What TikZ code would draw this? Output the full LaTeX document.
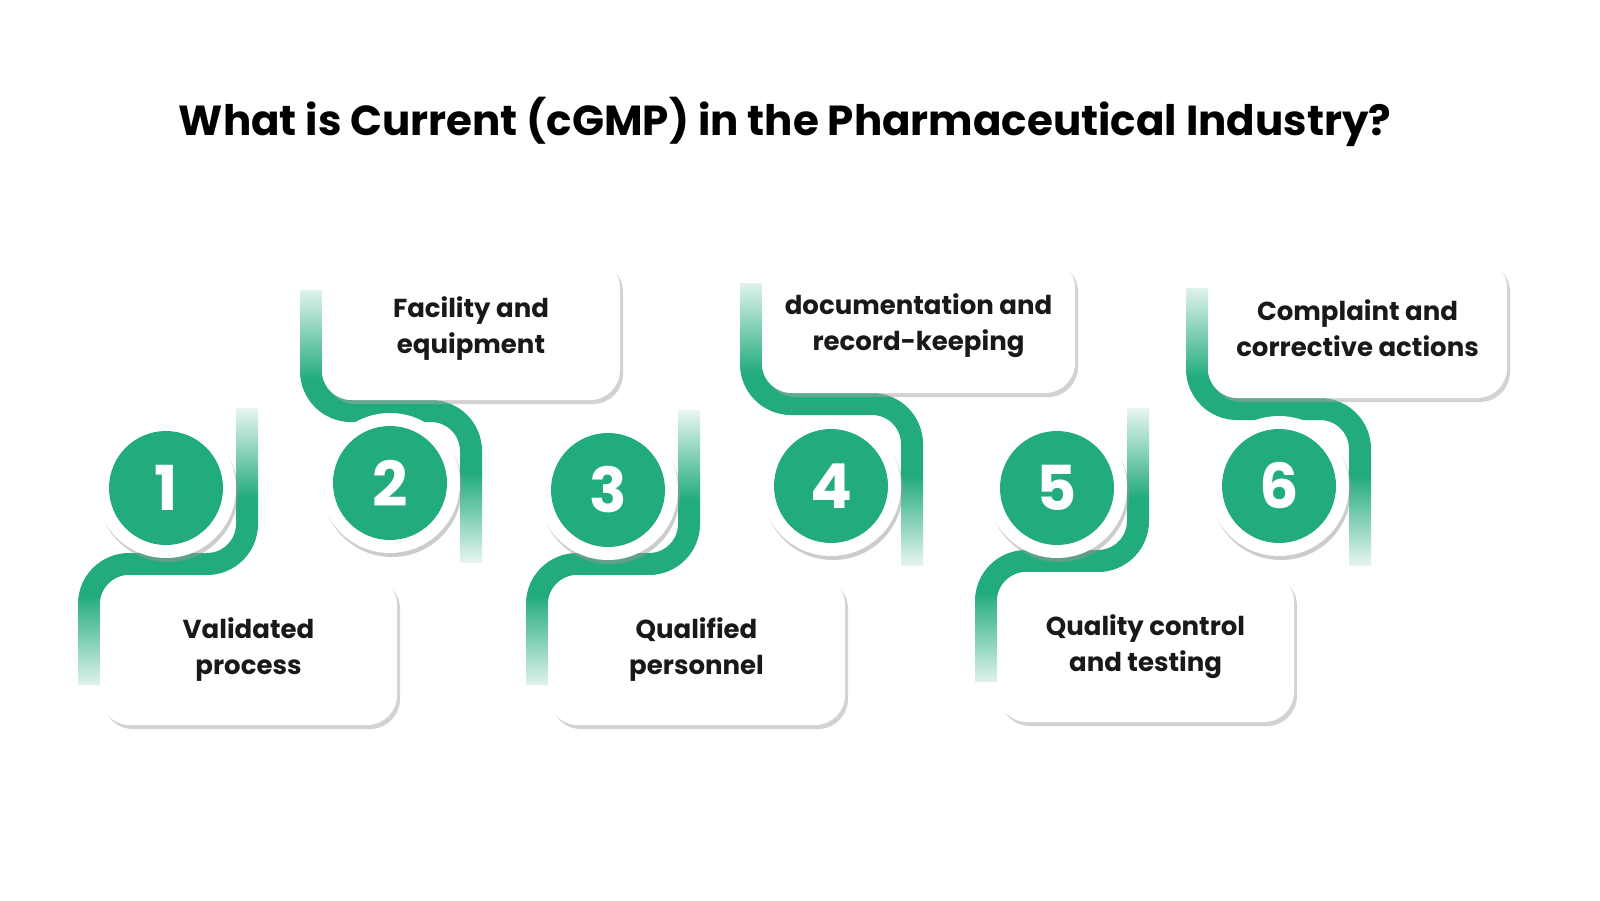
\documentclass[tikz,border=0pt]{standalone}
\usepackage{fontspec}
\setmainfont{Poppins}
\usetikzlibrary{shadows,fadings}
\definecolor{gr}{HTML}{22AB7F}
\begin{document}
\begin{tikzpicture}[x=1pt,y=-1pt,
  box/.style={fill=white,rounded corners=30pt,drop shadow={shadow xshift=3pt,shadow yshift=-4pt,fill=black!35,opacity=0.5},align=center,font=\fontsize{26}{36}\selectfont\bfseries\color{black!90}},
  ring/.style={circle,fill=white,minimum size=140pt,drop shadow={shadow xshift=2pt,shadow yshift=-4pt,fill=black!40,opacity=0.5}},
  num/.style={circle,fill=gr,minimum size=114pt,text=white,font=\fontsize{62}{62}\selectfont\bfseries},
  rib/.style={draw=gr,line width=22pt,rounded corners=40pt}]
\useasboundingbox (0,0) rectangle (1600,900);
\node[font=\fontsize{42}{50}\selectfont\bfseries] (title) at (785,122) {What is Current (cGMP) in the Pharmaceutical Industry?};
% ribbons
\foreach \cx/\cy/\bl/\bt in {166/488/100/575, 608/490/548/575, 1057/488/997/572}{
  \draw[rib] (\bl-11,\bt+110) -- (\bl-11,\bt-11) -- (\cx+81,\bt-11) -- (\cx+81,\cy-80);
  \fill[white,path fading=north] (\bl-30,\bt+20) rectangle (\bl+2,\bt+125);
  \fill[white,path fading=south] (\cx+60,\cy-90) rectangle (\cx+100,\cy+10);
}
\foreach \cx/\cy/\bl/\bb in {390/483/322/400, 831/486/762/393, 1279/486/1208/398}{
  \draw[rib] (\bl-11,\bb-110) -- (\bl-11,\bb+11) -- (\cx+81,\bb+11) -- (\cx+81,\cy+80);
  \fill[white,path fading=south] (\bl-30,\bb-125) rectangle (\bl+2,\bb-20);
  \fill[white,path fading=north] (\cx+60,\cy-10) rectangle (\cx+100,\cy+90);
}
% boxes
\node[box,minimum width=297pt,minimum height=150pt] (b1) at (248.5,650) {Validated\\process};
\node[box,minimum width=298pt,minimum height=142pt] (b2) at (471,329) {Facility and\\equipment};
\node[box,minimum width=297pt,minimum height=150pt] (b3) at (696.5,650) {Qualified\\personnel};
\node[box,minimum width=313pt,minimum height=135pt] (b4) at (918.5,325.5) {documentation and\\record-keeping};
\node[box,minimum width=297pt,minimum height=150pt] (b5) at (1145.5,647) {Quality control\\and testing};
\node[box,minimum width=299pt,minimum height=140pt] (b6) at (1357.5,328) {Complaint and\\corrective actions};
% circles
\foreach \i/\cx/\cy in {1/166/488,2/390/483,3/608/490,4/831/486,5/1057/488,6/1279/486}{
  \node[ring] (r\i) at (\cx,\cy) {};
  \node[num] (n\i) at (\cx,\cy) {\i};
}
\end{tikzpicture}
\end{document}
